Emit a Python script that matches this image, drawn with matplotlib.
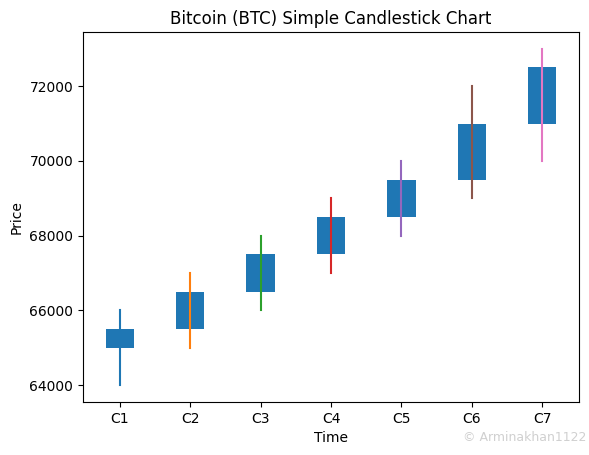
import matplotlib
matplotlib.use("Agg")
import matplotlib.pyplot as plt

labels = ["C1", "C2", "C3", "C4", "C5", "C6", "C7"]
opens = [65000, 65500, 66500, 67500, 68500, 69500, 71000]
closes = [65500, 66500, 67500, 68500, 69500, 71000, 72500]
highs = [66000, 67000, 68000, 69000, 70000, 72000, 73000]
lows = [64000, 65000, 66000, 67000, 68000, 69000, 70000]

fig = plt.figure(figsize=(5.89, 4.55), dpi=100)
ax = fig.add_axes([0.141, 0.1165, 0.842, 0.8132])

x = list(range(len(labels)))
ax.bar(x, [c - o for o, c in zip(opens, closes)], bottom=opens, width=0.4, color="#1f77b4")
for i in x:
    ax.plot([i, i], [lows[i], highs[i]])

ax.set_xticks(x)
ax.set_xticklabels(labels)
ax.set_title("Bitcoin (BTC) Simple Candlestick Chart")
ax.set_xlabel("Time")
ax.set_ylabel("Price")

fig.text(0.995, 0.025, "\u00a9 Arminakhan1122", ha="right", va="bottom",
         color="#d0d0d0", fontsize=9)

fig.savefig("out.png", dpi=100)
